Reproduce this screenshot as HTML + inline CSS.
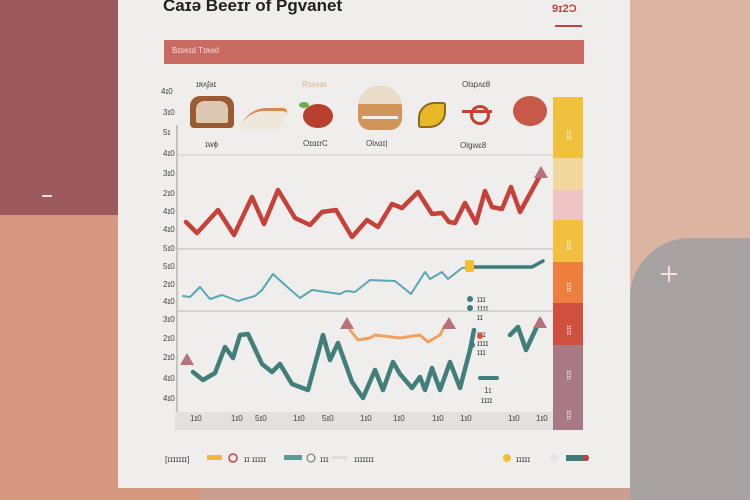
<!DOCTYPE html><html><head><style>
html,body{margin:0;width:750px;height:500px;overflow:hidden}
body{position:relative;font-family:"Liberation Sans",sans-serif;background:#dfb7a3}
.a{position:absolute}
.t{font-size:8px;color:#444}
</style></head><body>
<div class="a" style="left:0;top:0;width:118px;height:215px;background:#9c5a5f"></div>
<div class="a" style="left:0;top:215px;width:200px;height:285px;background:#d6987e"></div>
<div class="a" style="left:630px;top:0;width:120px;height:500px;background:#dcb4a2"></div>
<div class="a" style="left:630px;top:238px;width:120px;height:262px;background:#a8a2a2;border-radius:60px 0 0 0"></div>
<div class="a" style="left:200px;top:488px;width:430px;height:12px;background:#c9a090"></div>
<div class="a" style="left:118px;top:0;width:512px;height:488px;background:#efeeed"></div>
<div class="a" style="left:163px;top:-4px;font-size:17px;font-weight:bold;color:#222">Caɪə Beeɪr of Pgvanet</div>
<div class="a" style="left:552px;top:3px;font-size:11px;font-weight:bold;color:#c0443c">9ɪ2Ɔ</div>
<div class="a" style="left:555px;top:25px;width:27px;height:2px;background:#c0443c"></div>
<div class="a" style="left:164px;top:40px;width:420px;height:24px;background:#c96b62"></div>
<div class="a" style="left:172px;top:46px;font-size:8px;color:#f5dcd6">Bɪseɪd Tɪʀəd</div>
<div class="a t" style="left:196px;top:80px">ɪʀʌʃəɪ</div>
<div class="a t" style="left:302px;top:80px;color:#e0b090">Rɪəəəɪ</div>
<div class="a t" style="left:462px;top:80px">Olɜpʌɛ8</div>
<div class="a t" style="left:205px;top:140px">ɪwɸ</div>
<div class="a t" style="left:303px;top:139px">OɪɑɪrC</div>
<div class="a t" style="left:366px;top:139px">Olʌɑɪ|</div>
<div class="a t" style="left:460px;top:141px">Olgwɛ8</div>
<div class="a" style="left:190px;top:96px;width:44px;height:32px;background:#9a5a32;border-radius:10px 10px 4px 4px"></div>
<div class="a" style="left:196px;top:101px;width:32px;height:22px;background:#dcc8b0;border-radius:8px 8px 2px 2px"></div>
<div class="a" style="left:243px;top:108px;width:42px;height:18px;background:#efe6dc;border-top:3px solid #d88a50;border-radius:30px 10px 10px 4px;transform:skewX(-20deg)"></div>
<div class="a" style="left:303px;top:104px;width:30px;height:24px;background:#b8402e;border-radius:50%"></div>
<div class="a" style="left:299px;top:102px;width:10px;height:6px;background:#6aae48;border-radius:50%"></div>
<div class="a" style="left:358px;top:86px;width:44px;height:20px;background:#e8dcc8;border-radius:20px 20px 0 0"></div>
<div class="a" style="left:358px;top:104px;width:44px;height:26px;background:#d09458;border-radius:2px 2px 12px 12px"></div>
<div class="a" style="left:362px;top:116px;width:36px;height:3px;background:#f5eee8"></div>
<div class="a" style="left:418px;top:102px;width:24px;height:22px;background:#e8b828;border:2px solid #8a6a20;border-radius:60% 10% 60% 10%"></div>
<div class="a" style="left:470px;top:105px;width:14px;height:14px;border:3px solid #c84030;border-radius:50%"></div>
<div class="a" style="left:462px;top:110px;width:30px;height:3px;background:#c84030"></div>
<div class="a" style="left:513px;top:96px;width:34px;height:30px;background:#c85848;border-radius:50%"></div>
<div class="a" style="left:553px;top:97px;width:30px;height:61px;background:#f0c13d"></div>
<div class="a" style="left:553px;top:158px;width:30px;height:32px;background:#f2d89c"></div>
<div class="a" style="left:553px;top:190px;width:30px;height:30px;background:#eec4c4"></div>
<div class="a" style="left:553px;top:220px;width:30px;height:42px;background:#f2c03e"></div>
<div class="a" style="left:553px;top:262px;width:30px;height:41px;background:#ee7e3e"></div>
<div class="a" style="left:553px;top:303px;width:30px;height:42px;background:#cf503f"></div>
<div class="a" style="left:553px;top:345px;width:30px;height:85px;background:#a77985"></div>
<div class="a" style="left:175px;top:412px;width:378px;height:18px;background:#e2e1e0"></div>
<svg class="a" style="left:0;top:0" width="750" height="500">
<g font-family="Liberation Sans" font-size="8" fill="#444">
<text x="161" y="94">4ɪ0</text><text x="163" y="115">3ɪ0</text><text x="163" y="135">5ɪ</text><text x="163" y="156">4ɪ0</text>
<text x="163" y="176">3ɪ0</text><text x="163" y="196">2ɪ0</text><text x="163" y="214">4ɪ0</text><text x="163" y="232">4ɪ0</text><text x="163" y="251">5ɪ0</text>
<text x="163" y="269">5ɪ0</text><text x="163" y="287">2ɪ0</text><text x="163" y="304">4ɪ0</text><text x="163" y="322">3ɪ0</text><text x="163" y="341">2ɪ0</text>
<text x="163" y="360">2ɪ0</text><text x="163" y="381">4ɪ0</text><text x="163" y="401">4ɪ0</text>
<text x="190" y="421">1ɪ0</text><text x="231" y="421">1ɪ0</text><text x="255" y="421">5ɪ0</text><text x="293" y="421">1ɪ0</text><text x="322" y="421">5ɪ0</text>
<text x="360" y="421">1ɪ0</text><text x="393" y="421">1ɪ0</text><text x="432" y="421">1ɪ0</text><text x="460" y="421">1ɪ0</text><text x="508" y="421">1ɪ0</text><text x="536" y="421">1ɪ0</text>
<text x="484" y="393">1ɪ</text><text x="481" y="403">ɪɪɪɪ</text>
<text x="477" y="302">ɪɪɪ</text><text x="477" y="311">ɪɪɪɪ</text><text x="477" y="320">ɪɪ</text><text x="477" y="337">ɪɪɪ</text><text x="477" y="346">ɪɪɪɪ</text><text x="477" y="355">ɪɪɪ</text>
<text x="165" y="462">[ɪɪɪɪɪɪɪ]</text><text x="244" y="462">ɪɪ ɪɪɪɪɪ</text><text x="320" y="462">ɪɪɪ</text><text x="354" y="462">ɪɪɪɪɪɪɪ</text><text x="516" y="462">ɪɪɪɪɪ</text>
</g>
<line x1="177" y1="125" x2="177" y2="412" stroke="#999" stroke-width="1"/>
<line x1="177" y1="155" x2="553" y2="155" stroke="#ccc"/>
<line x1="177" y1="249" x2="553" y2="249" stroke="#bbb"/>
<line x1="177" y1="311" x2="553" y2="311" stroke="#bbb"/>
<g fill="none" stroke-linejoin="round" stroke-linecap="round">
<polyline stroke="#c7403a" stroke-width="4.5" points="186,222 197,233 218,210 234,235 252,197 264,224 278,190 295,218 310,225 322,212 336,210 352,237 367,220 378,227 392,204 402,208 418,192 432,214 442,213 449,222 455,223 465,203 476,223 485,191 492,207 502,209 511,187 520,212 542,172"/>
<polyline stroke="#5aa6b4" stroke-width="2" points="183,296 190,297 200,287 210,299 222,295 238,301 255,296 262,290 273,274 285,285 300,298 312,290 340,294 346,291 355,292 365,284 370,280 395,281 411,294 425,272 430,279 442,272 448,279 462,268 470,267"/>
<polyline stroke="#3f7a78" stroke-width="3.5" points="474,267 532,267 543,261"/>
<polyline stroke="#f0a060" stroke-width="3" points="350,330 358,340 370,338 375,335 400,338 420,335 428,342 440,335 445,325"/>
<polyline stroke="#427f7b" stroke-width="4.5" points="193,372 203,380 215,373 225,347 233,358 240,335 248,334 262,364 272,372 280,364 292,384 308,390 323,335 330,360 338,343 352,382 363,398 375,370 383,390 393,362 400,374 412,388 420,377 425,390 432,368 440,390 450,362 460,388 470,350 474,330"/>
<polyline stroke="#427f7b" stroke-width="4.5" points="510,335 518,327 526,350 540,320"/>
<line x1="480" y1="378" x2="497" y2="378" stroke="#427f7b" stroke-width="4"/>
</g>
<g fill="#b8707a"><path d="M347,317 l-7,12 h14z"/><path d="M449,317 l-7,12 h14z"/><path d="M540,316 l-7,12 h14z"/><path d="M187,353 l-7,12 h14z"/><path d="M541,166 l-7,12 h14z"/></g>
<rect x="465" y="260" width="9" height="12" rx="2" fill="#f0c030"/>
<circle cx="470" cy="299" r="3" fill="#427f7b"/><circle cx="470" cy="308" r="3" fill="#427f7b"/><circle cx="480" cy="336" r="3" fill="#e05030"/><circle cx="472" cy="345" r="3" fill="#427f7b"/>
<rect x="207" y="455" width="15" height="5" fill="#f0b840"/><circle cx="233" cy="458" r="4" fill="none" stroke="#c84040" stroke-width="1.5"/>
<rect x="284" y="455" width="18" height="5" fill="#5a9a9a"/><circle cx="311" cy="458" r="4" fill="none" stroke="#666"/>
<rect x="332" y="456" width="15" height="3" fill="#ddd"/><circle cx="507" cy="458" r="4" fill="#f0c030"/><circle cx="554" cy="458" r="4" fill="#e4e4e4"/>
<rect x="566" y="455" width="22" height="6" fill="#3f7a78"/><circle cx="586" cy="458" r="3" fill="#c84040"/>
<g font-family="Liberation Sans" font-size="7" fill="#fff" opacity=".8"><text transform="translate(571,140) rotate(-90)">ɪɪɪɪ</text><text transform="translate(571,250) rotate(-90)">ɪɪɪɪ</text><text transform="translate(571,292) rotate(-90)">ɪɪɪɪ</text><text transform="translate(571,335) rotate(-90)">ɪɪɪɪ</text><text transform="translate(571,380) rotate(-90)">ɪɪɪɪ</text><text transform="translate(571,420) rotate(-90)">ɪɪɪɪ</text></g>
<g stroke="#f0e0d8" stroke-width="2"><line x1="661" y1="274" x2="677" y2="274"/><line x1="669" y1="266" x2="669" y2="282"/><line x1="42" y1="196" x2="52" y2="196"/></g>
</svg>
</body></html>
